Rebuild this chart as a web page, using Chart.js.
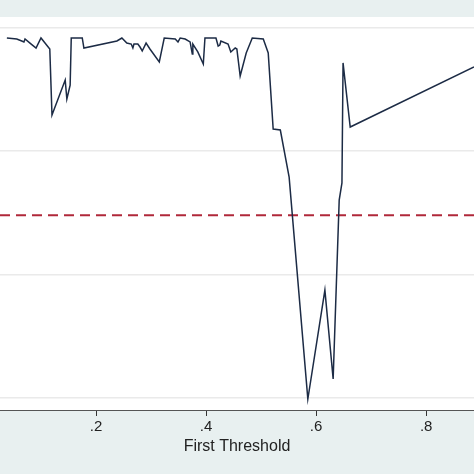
<!DOCTYPE html>
<html>
<head>
<meta charset="utf-8">
<script src="https://cdn.jsdelivr.net/npm/chart.js@4"></script>
<style>
  html, body { margin: 0; padding: 0; background: #e8f0f0; }
  #wrap { width: 474px; height: 474px; }
</style>
</head>
<body>
<div id="wrap"><canvas id="grafico"></canvas></div>
<script>
const umbral = [0.038, 0.056, 0.065, 0.069, 0.071, 0.080, 0.091, 0.100, 0.116, 0.120, 0.144, 0.147, 0.153, 0.155, 0.175, 0.178,
  0.238, 0.247, 0.256, 0.264, 0.267, 0.269, 0.276, 0.280, 0.284, 0.291, 0.298, 0.315, 0.324, 0.344, 0.349, 0.353,
  0.362, 0.371, 0.375, 0.376, 0.385, 0.395, 0.398, 0.418, 0.422, 0.425, 0.427, 0.440, 0.445, 0.453, 0.456, 0.462,
  0.473, 0.484, 0.504, 0.513, 0.522, 0.535, 0.551, 0.585, 0.616, 0.631, 0.642, 0.647, 0.649, 0.662, 0.887];
const valores = [2.915, 2.907, 2.891, 2.883, 2.907, 2.874, 2.834, 2.915, 2.826, 2.291, 2.575, 2.421, 2.534, 2.915, 2.915, 2.834,
  2.891, 2.915, 2.874, 2.866, 2.834, 2.866, 2.866, 2.842, 2.810, 2.874, 2.826, 2.721, 2.915, 2.907, 2.883, 2.915,
  2.907, 2.883, 2.785, 2.866, 2.802, 2.704, 2.915, 2.915, 2.850, 2.858, 2.891, 2.866, 2.802, 2.834, 2.826, 2.607,
  2.794, 2.915, 2.907, 2.794, 2.178, 2.170, 1.789, -0.008, 0.874, 0.154, 1.603, 1.741, 2.713, 2.194, 2.680];
const referencia = 1.48;
const ticksX = [0.2, 0.4, 0.6, 0.8];

const puntos = umbral.map((x, i) => ({ x: x, y: valores[i] }));

// fondo blanco del area del grafico
const fondo = {
  id: 'fondo',
  beforeDraw(chart) {
    const { ctx, chartArea: a } = chart;
    ctx.save();
    ctx.fillStyle = '#ffffff';
    ctx.fillRect(a.left, a.top, a.right - a.left, a.bottom - a.top);
    ctx.restore();
  }
};

new Chart(document.getElementById('grafico'), {
  type: 'line',
  data: {
    datasets: [{
      data: puntos,
      borderColor: '#1c2b45',
      borderWidth: 1.5,
      pointRadius: 0,
      tension: 0
    }, {
      data: [{ x: 0.0255, y: referencia }, { x: 0.887, y: referencia }],
      borderColor: '#b0283a',
      borderWidth: 2,
      borderDash: [10, 6],
      pointRadius: 0
    }]
  },
  options: {
    responsive: true,
    maintainAspectRatio: false,
    animation: false,
    layout: { padding: { top: 17, left: 0, right: 0, bottom: 14 } },
    plugins: { legend: { display: false }, tooltip: { enabled: false } },
    scales: {
      x: {
        type: 'linear',
        min: 0.0255,
        max: 0.887,
        afterBuildTicks(scale) { scale.ticks = ticksX.map(v => ({ value: v })); },
        afterFit(scale) { scale.height = 50; },
        grid: { drawOnChartArea: false, drawTicks: true, tickLength: 6, color: '#333' },
        border: { color: '#555', width: 1 },
        ticks: {
          color: '#222',
          font: { family: 'Liberation Sans', size: 15 },
          padding: 2,
          callback: v => String(v).replace(/^0/, '')
        },
        title: {
          display: true,
          text: 'First Threshold',
          color: '#222',
          font: { family: 'Liberation Sans', size: 16 },
          padding: { top: -4 }
        }
      },
      y: {
        min: -0.097,
        max: 3.085,
        afterBuildTicks(scale) { scale.ticks = [0, 1, 2, 3].map(v => ({ value: v })); },
        afterFit(scale) { scale.width = 0; },
        ticks: { display: false },
        grid: { color: '#eaeaea', lineWidth: 1.5, drawTicks: false },
        border: { display: false }
      }
    }
  },
  plugins: [fondo]
});
</script>
</body>
</html>
